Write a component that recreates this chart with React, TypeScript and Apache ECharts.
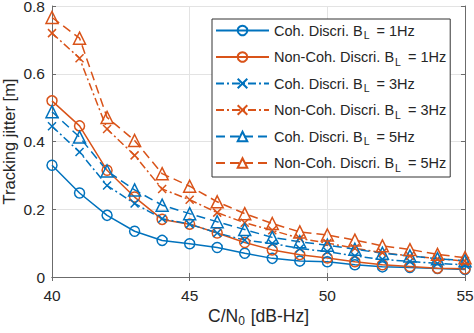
import React, { useEffect, useRef } from 'react';
import * as echarts from 'echarts';

const cn0 = [40, 41, 42, 43, 44, 45, 46, 47, 48, 49, 50, 51, 52, 53, 54, 55];
const coh1 = [0.330, 0.248, 0.182, 0.135, 0.108, 0.098, 0.087, 0.070, 0.055, 0.047, 0.045, 0.036, 0.030, 0.028, 0.025, 0.022];
const nonCoh1 = [0.520, 0.446, 0.315, 0.236, 0.170, 0.156, 0.130, 0.102, 0.080, 0.066, 0.056, 0.045, 0.036, 0.031, 0.026, 0.024];
const coh3 = [0.445, 0.369, 0.270, 0.217, 0.172, 0.156, 0.130, 0.109, 0.099, 0.084, 0.075, 0.062, 0.052, 0.046, 0.040, 0.036];
const nonCoh3 = [0.720, 0.646, 0.437, 0.359, 0.260, 0.228, 0.190, 0.160, 0.138, 0.114, 0.100, 0.085, 0.072, 0.062, 0.054, 0.047];
const coh5 = [0.488, 0.413, 0.313, 0.257, 0.212, 0.187, 0.163, 0.140, 0.117, 0.104, 0.094, 0.082, 0.070, 0.062, 0.054, 0.048];
const nonCoh5 = [0.766, 0.705, 0.471, 0.403, 0.305, 0.268, 0.222, 0.187, 0.158, 0.133, 0.124, 0.109, 0.092, 0.081, 0.067, 0.057];

const seriesNames = [
  'Coh. Discri. B_L = 1Hz',
  'Non-Coh. Discri. B_L = 1Hz',
  'Coh. Discri. B_L = 3Hz',
  'Non-Coh. Discri. B_L = 3Hz',
  'Coh. Discri. B_L = 5Hz',
  'Non-Coh. Discri. B_L = 5Hz',
];
const xTicks = { min: 40, max: 55, interval: 5 };
const yTicks = { min: 0, max: 0.8, interval: 0.2 };
const xName = 'C/N{s|0} [dB-Hz]';
const yName = 'Tracking jitter [m]';

const FONT = 'Liberation Sans, Arial, Helvetica, sans-serif';
const TXT = '#262626';
const AX = '#6b6b6b';
const BLUE = '#0072BD';
const ORANGE = '#D95319';
const CROSS = 'path://M0,0L10,10M0,10L10,0';

export default function App() {
  const ref = useRef<HTMLDivElement>(null);
  useEffect(() => {
    const chart = echarts.init(ref.current as HTMLDivElement, null, { renderer: 'svg' });
    const mk = (name: string, data: number[], color: string, symbol: string, size: number, dash: any) => ({
      name,
      type: 'line',
      data: cn0.map((x, i) => [x, data[i]]),
      symbol,
      symbolSize: size,
      showSymbol: true,
      lineStyle: { color, width: 1.5, type: dash },
      itemStyle: { color: 'rgba(255,255,255,0)', borderColor: color, borderWidth: 1.5 },
      emphasis: { disabled: true },
      silent: true,
    });
    const dashDot = [8, 3, 2, 3];
    const dashed = [9, 5];
    const series = [
      mk(seriesNames[0], coh1, BLUE, 'circle', 10, 'solid'),
      mk(seriesNames[1], nonCoh1, ORANGE, 'circle', 10, 'solid'),
      mk(seriesNames[2], coh3, BLUE, CROSS, 8, dashDot),
      mk(seriesNames[3], nonCoh3, ORANGE, CROSS, 8, dashDot),
      mk(seriesNames[4], coh5, BLUE, 'triangle', 12, dashed),
      mk(seriesNames[5], nonCoh5, ORANGE, 'triangle', 12, dashed),
    ];
    const axCommon = {
      axisLine: { show: true, lineStyle: { color: AX, width: 1 } },
      axisTick: { show: true, inside: true, length: 4, lineStyle: { color: AX } },
    };
    chart.setOption({
      animation: false,
      backgroundColor: '#ffffff',
      grid: { left: 52, right: 9, top: 6, bottom: 56, containLabel: false, outerBoundsMode: 'none' },
      legend: {
        orient: 'vertical',
        left: 212,
        top: 19,
        itemWidth: 53,
        itemHeight: 12,
        itemGap: 9,
        padding: [4, 4, 4, 3],
        backgroundColor: '#ffffff',
        borderColor: '#333333',
        borderWidth: 1,
        data: seriesNames,
        selectedMode: false,
        formatter: (name: string) => {
          const m = name.match(/^(.*) B_L = (.*)$/);
          if (!m) return name;
          return `{a|${m[1]} B}{s|L}{a| = ${m[2]}}`;
        },
        textStyle: {
          color: TXT,
          fontFamily: FONT,
          fontSize: 14.5,
          rich: {
            a: { fontSize: 14.5, fontFamily: FONT, color: TXT },
            s: { fontSize: 10.5, fontFamily: FONT, color: TXT, padding: [9, 3, 0, 1] },
          },
        },
      },
      xAxis: [
        {
          type: 'value',
          min: xTicks.min,
          max: xTicks.max,
          interval: xTicks.interval,
          position: 'bottom',
          ...axCommon,
          axisLabel: { color: TXT, fontFamily: FONT, fontSize: 15.5, margin: 10 },
          splitLine: { show: true, lineStyle: { color: '#e3e3e3', width: 1 } },
          name: xName,
          nameLocation: 'middle',
          nameGap: 27,
          nameMoveOverlap: false,
          nameTextStyle: {
            color: TXT,
            fontFamily: FONT,
            fontSize: 17.5,
            rich: { s: { fontSize: 12, fontFamily: FONT, color: TXT, padding: [11, 1, 0, 0] } },
          },
        },
        {
          type: 'value',
          min: xTicks.min,
          max: xTicks.max,
          interval: xTicks.interval,
          position: 'top',
          ...axCommon,
          axisLabel: { show: false },
          splitLine: { show: false },
        },
      ],
      yAxis: [
        {
          type: 'value',
          min: yTicks.min,
          max: yTicks.max,
          interval: yTicks.interval,
          position: 'left',
          ...axCommon,
          axisLabel: {
            color: TXT,
            fontFamily: FONT,
            fontSize: 15.5,
            lineHeight: 12,
            margin: 7,
            formatter: (v: number) => (v === 0 ? '0' : String(Math.round(v * 10) / 10)),
          },
          splitLine: { show: true, lineStyle: { color: '#e3e3e3', width: 1 } },
          name: yName,
          nameLocation: 'middle',
          nameGap: 35,
          nameMoveOverlap: false,
          nameTextStyle: { color: TXT, fontFamily: FONT, fontSize: 16.5 },
        },
        {
          type: 'value',
          min: yTicks.min,
          max: yTicks.max,
          interval: yTicks.interval,
          position: 'right',
          ...axCommon,
          axisLabel: { show: false },
          splitLine: { show: false },
        },
      ],
      series,
    });
    return () => chart.dispose();
  }, []);
  return (
    <div
      ref={ref}
      style={{ position: 'fixed', left: 0, top: 0, width: 474, height: 333, background: '#fff' }}
    />
  );
}
